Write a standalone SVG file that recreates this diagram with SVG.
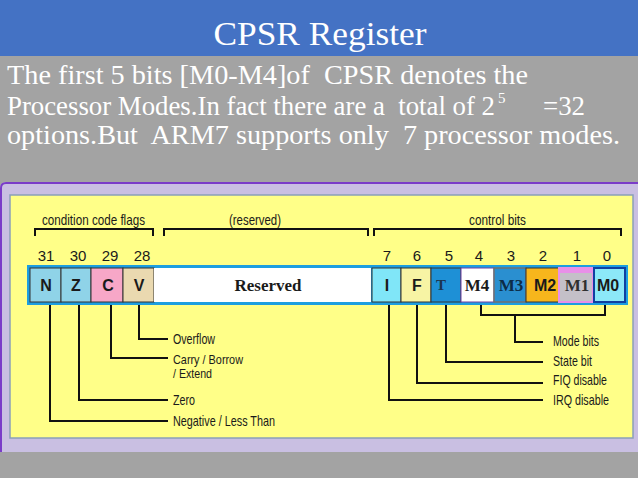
<svg xmlns="http://www.w3.org/2000/svg" width="638" height="478" viewBox="0 0 638 478">
<style>
.title{font-family:"Liberation Serif","Times New Roman",serif;font-size:34px;fill:#ffffff}
.body{font-family:"Liberation Serif","Times New Roman",serif;font-size:28px;fill:#ffffff}
.lbl{font-family:"Liberation Sans",Arial,sans-serif;font-size:15px;fill:#1a1a1a}
.hdr{font-family:"Liberation Sans",Arial,sans-serif;font-size:15px;fill:#1a1a1a}
.num{font-family:"Liberation Sans",Arial,sans-serif;font-size:15px;fill:#1a1a1a;text-anchor:middle}
.cs{font-family:"Liberation Sans",Arial,sans-serif;font-size:16px;font-weight:bold;fill:#1a1a1a;text-anchor:middle}
.cf{font-family:"Liberation Serif","Times New Roman",serif;font-size:17px;font-weight:bold;fill:#1a1a1a;text-anchor:middle}
.cell{stroke:#333333;stroke-width:1}
.wire{fill:none;stroke:#111111;stroke-width:2}
</style>
<rect x="0" y="0" width="638" height="478" fill="#a3a3a3"/>
<rect x="0" y="0" width="638" height="56" fill="#4472c4"/>
<text class="title" x="320" y="45" text-anchor="middle" textLength="213" lengthAdjust="spacingAndGlyphs">CPSR Register</text>
<text class="body" xml:space="preserve" x="7" y="84" textLength="521" lengthAdjust="spacingAndGlyphs">The first 5 bits [M0-M4]of  CPSR denotes the</text>
<text class="body" xml:space="preserve" x="7" y="115"><tspan textLength="488" lengthAdjust="spacingAndGlyphs">Processor Modes.In fact there are a  total of 2</tspan><tspan x="498" dy="-12" style="font-size:15px">5</tspan><tspan x="543" dy="12" textLength="42" lengthAdjust="spacingAndGlyphs">=32</tspan></text>
<text class="body" xml:space="preserve" x="7" y="144" textLength="613" lengthAdjust="spacingAndGlyphs">options.But  ARM7 supports only  7 processor modes.</text>

<g id="frame">
<path d="M0,452 L0,188 Q0,182 6,182 L638,182 L638,452 Z" fill="#c9bfe2"/>
<path d="M1,452 L1,188 Q1,183 6,183 L638,183" fill="none" stroke="#7a3cc8" stroke-width="2"/>
<rect x="10" y="195" width="623" height="243" fill="#ffff88" stroke="#8aa0b8" stroke-width="1.5"/>
</g>

<g id="headers">
<text class="hdr" x="42" y="225" textLength="103" lengthAdjust="spacingAndGlyphs">condition code flags</text>
<text class="hdr" x="229" y="225" textLength="52" lengthAdjust="spacingAndGlyphs">(reserved)</text>
<text class="hdr" x="469" y="225" textLength="57" lengthAdjust="spacingAndGlyphs">control bits</text>
<path class="wire" d="M35,236 L35,229 L153,229 L153,236"/>
<path class="wire" d="M164,236 L164,229 L368,229 L368,236"/>
<path class="wire" d="M374,236 L374,229 L621,229 L621,236"/>
</g>

<g id="bitnumbers">
<text class="num" x="46" y="261">31</text>
<text class="num" x="78" y="261">30</text>
<text class="num" x="110" y="261">29</text>
<text class="num" x="142" y="261">28</text>
<text class="num" x="387" y="261">7</text>
<text class="num" x="417" y="261">6</text>
<text class="num" x="449" y="261">5</text>
<text class="num" x="479" y="261">4</text>
<text class="num" x="511" y="261">3</text>
<text class="num" x="543" y="261">2</text>
<text class="num" x="577" y="261">1</text>
<text class="num" x="607" y="261">0</text>
</g>

<g id="register">
<rect x="27" y="265" width="601" height="40" fill="#1c9ee0"/>
<g id="bit-N"><rect class="cell" x="30" y="268" width="31" height="34" fill="#8fd3e8"/><text class="cs" x="46" y="291">N</text></g>
<g id="bit-Z"><rect class="cell" x="61" y="268" width="30" height="34" fill="#8fd3e8"/><text class="cs" x="76" y="291">Z</text></g>
<g id="bit-C"><rect class="cell" x="91" y="268" width="32" height="34" fill="#f7a7c7"/><text class="cs" x="108" y="291">C</text></g>
<g id="bit-V"><rect class="cell" x="123" y="268" width="31" height="34" fill="#ead9b0"/><text class="cs" x="139" y="291">V</text></g>
<g id="reserved"><rect x="154" y="268" width="217" height="34" fill="#ffffff"/><text class="cf" x="268" y="291">Reserved</text></g>
<g id="bit-I"><rect class="cell" x="372" y="268" width="29" height="34" fill="#80e6f8"/><text class="cs" x="387" y="291">I</text></g>
<g id="bit-F"><rect class="cell" x="401" y="268" width="30" height="34" fill="#f7f4a4"/><text class="cs" x="417" y="291">F</text></g>
<g id="bit-T"><rect class="cell" x="431" y="268" width="30" height="34" fill="#1e90d6"/><text class="cf" x="441" y="290" style="font-size:15px;fill:#1c3550">T</text></g>
<g id="bit-M4"><rect x="461" y="268" width="33" height="34" fill="#ffffff" stroke="#7040a0" stroke-width="1"/><text class="cf" x="477" y="291">M4</text></g>
<g id="bit-M3"><rect x="494" y="268" width="32" height="34" fill="#2a8fd0" stroke="#707070" stroke-width="1.5"/><text class="cf" x="511" y="291" style="fill:#0c2c48">M3</text></g>
<g id="bit-M2"><rect class="cell" x="526" y="268" width="33" height="34" fill="#f7b61c"/><text class="cs" x="545" y="291">M2</text></g>
<g id="bit-M1"><rect x="559" y="268" width="34" height="34" fill="#c4c0c8" stroke="#e890e8" stroke-width="2"/><rect x="560" y="269" width="32" height="4" fill="#e890e8"/><text class="cf" x="577" y="291" style="fill:#303030">M1</text></g>
<g id="bit-M0"><rect x="594" y="268" width="31" height="34" fill="#8ce8f8" stroke="#1040a0" stroke-width="2"/><text class="cs" x="608" y="291">M0</text></g>
</g>

<g id="connectors">
<path class="wire" d="M50,305 L50,421 L168,421"/>
<path class="wire" d="M79,305 L79,400 L168,400"/>
<path class="wire" d="M111,305 L111,358 L168,358"/>
<path class="wire" d="M139,305 L139,339 L168,339"/>
<path class="wire" d="M389,305 L389,400 L543,400"/>
<path class="wire" d="M417,305 L417,383 L543,383"/>
<path class="wire" d="M446,305 L446,362 L543,362"/>
<path class="wire" d="M481,305 L481,315 L605,315 L605,305"/>
<path class="wire" d="M515,315 L515,342 L543,342"/>
</g>

<g id="labels">
<text class="lbl" x="173" y="344" textLength="42" lengthAdjust="spacingAndGlyphs">Overflow</text>
<text class="lbl" x="173" y="364" textLength="70" lengthAdjust="spacingAndGlyphs" style="font-size:13px">Carry / Borrow</text>
<text class="lbl" x="173" y="378" textLength="39" lengthAdjust="spacingAndGlyphs" style="font-size:13px">/ Extend</text>
<text class="lbl" x="173" y="405" textLength="22" lengthAdjust="spacingAndGlyphs">Zero</text>
<text class="lbl" x="173" y="426" textLength="102" lengthAdjust="spacingAndGlyphs">Negative / Less Than</text>
<text class="lbl" x="553" y="346" textLength="46" lengthAdjust="spacingAndGlyphs">Mode bits</text>
<text class="lbl" x="553" y="366" textLength="39" lengthAdjust="spacingAndGlyphs">State bit</text>
<text class="lbl" x="553" y="385" textLength="54" lengthAdjust="spacingAndGlyphs">FIQ disable</text>
<text class="lbl" x="553" y="405" textLength="56" lengthAdjust="spacingAndGlyphs">IRQ disable</text>
</g>
</svg>
